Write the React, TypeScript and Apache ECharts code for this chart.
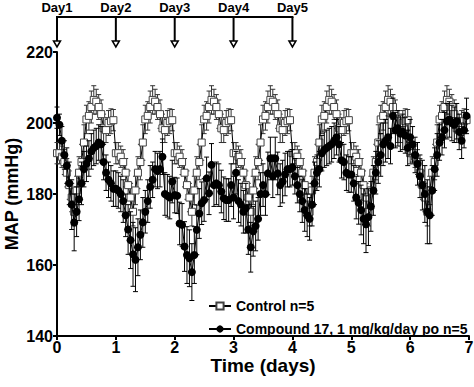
import React, { useEffect, useRef } from "react";
import * as echarts from "echarts";

const FONT = "'Liberation Sans', Arial, Helvetica, sans-serif";

// Day annotation arrows (x position in days)
const dayLabels = ["Day1", "Day2", "Day3", "Day4", "Day5"];
const dayPositions = [0, 1, 2, 3, 4];

const yTickMin = 140;
const yTickMax = 220;
const yTickStep = 20;
const xMin = 0;
const xMax = 7;

// Control MAP, hourly, days 0..6 (mmHg)
const controlDay0 = [191.5, 191.5, 190.5, 189, 186, 182.5, 179, 175, 181, 186, 189, 194.5, 201, 202, 204.5, 206.5, 206, 204.5, 202.5, 198.5, 198, 200, 200.5, 200.8];
const controlDay1 = [191.5, 191.5, 190.5, 189, 186, 182.5, 179, 175, 181, 186, 189, 194.5, 201, 202, 204.5, 206.5, 206, 204.5, 202.5, 198.5, 198, 200, 200.5, 200.8];
const controlDay2 = [191.5, 191.5, 190.5, 189, 186, 182.5, 179, 175, 181, 186, 189, 194.5, 201, 202, 204.5, 206.5, 206, 204.5, 202.5, 198.5, 198, 200, 200.5, 200.8];
const controlDay3 = [191.5, 191.5, 190.5, 189, 186, 182.5, 179, 175, 181, 186, 189, 194.5, 201, 202, 204.5, 206.5, 206, 204.5, 202.5, 198.5, 198, 200, 200.5, 200.8];
const controlDay4 = [191.5, 191.5, 190.5, 189, 186, 182.5, 179, 175, 181, 186, 189, 194.5, 201, 202, 204.5, 206.5, 206, 204.5, 202.5, 198.5, 198, 200, 200.5, 200.8];
const controlDay5 = [191.5, 191.5, 190.5, 189, 186, 182.5, 179, 175, 181, 186, 189, 194.5, 201, 202, 204.5, 206.5, 206, 204.5, 202.5, 198.5, 198, 200, 200.5, 200.8];
const controlDay6 = [191.5, 191.5, 190.5, 189, 186, 182.5, 179, 175, 181, 186, 189, 194.5, 201, 202, 204.5, 206.5, 206, 204.5, 202.5, 198.5, 198, 200, 200.5, 200.8];

// Control SEM, hourly (mmHg)
const controlSemDay = [3, 3, 3, 3.5, 4, 4, 4, 4, 4, 4.5, 5, 5, 4, 4, 4.5, 4, 3.5, 3.5, 4, 4, 3.5, 3.5, 3.5, 3];

// Compound 17 MAP, hourly (mmHg)
const compoundDay0 = [201.5, 199.5, 195, 191, 188, 183, 177, 172, 175, 178.5, 183, 187, 188.5, 190, 192, 193, 193.5, 194.5, 194, 189, 186, 184, 183, 181.5];
const compoundDay1 = [181.5, 181, 180, 178, 174, 170, 167, 163, 161.5, 165, 168.5, 172, 175, 178, 182, 184, 187, 186.5, 187, 190.5, 180, 179.5, 179, 183.5];
const compoundDay2 = [179.7, 179.5, 171.7, 171.3, 165.2, 162.8, 161.9, 158, 162.8, 169.9, 174.5, 177.4, 178.3, 184.4, 180.2, 188.2, 182.5, 183, 182.5, 180.7, 178.8, 178.3, 178.3, 182.5];
const compoundDay3 = [179, 186, 178, 177, 175, 176, 170, 165, 169.5, 171, 173, 180, 182.5, 180, 185.8, 190, 185, 190, 185.8, 182.5, 183.5, 185.5, 187, 187];
const compoundDay4 = [187.5, 185, 182.5, 180, 178, 175.5, 174, 173, 177, 183, 186, 187, 191.5, 192.5, 193, 193.5, 194, 195, 196, 194, 189.5, 189, 186, 185.5];
const compoundDay5 = [185.5, 183, 179, 177.5, 175.5, 173, 171.5, 173.5, 176.5, 181, 186, 189, 191, 194, 195, 196, 193.5, 202, 198, 198.5, 197, 197.5, 196.5, 193];
const compoundDay6 = [196, 194, 191, 188.5, 185, 182.5, 180, 175, 174, 181, 187, 191, 194.5, 196, 198, 200.5, 201, 200, 199.5, 200.5, 197.5, 195, 198, 202];

// Compound 17 SEM, hourly (mmHg)
const compoundSemDay0 = [3, 3, 4, 4, 5, 6, 7, 8, 7, 6, 6, 5, 5, 5, 5, 5, 5, 5, 5, 5, 5, 5, 5, 5];
const compoundSemDay1 = [5, 5, 5, 6, 6, 7, 8, 9, 9, 8, 7, 7, 6, 6, 6, 5, 5, 5, 5, 5, 6, 6, 6, 6];
const compoundSemDay2 = [5, 5, 6, 6, 7, 8, 8, 8, 8, 7, 7, 6, 6, 6, 6, 6, 6, 6, 6, 6, 6, 6, 6, 6];
const compoundSemDay3 = [6, 6, 6, 6, 6, 7, 7, 7, 7, 7, 6, 6, 6, 6, 6, 6, 6, 6, 6, 6, 6, 6, 5, 5];
const compoundSemDay4 = [5, 5, 5, 5, 6, 6, 6, 6, 6, 6, 5, 5, 5, 5, 5, 5, 5, 5, 5, 5, 5, 5, 5, 5];
const compoundSemDay5 = [5, 5, 6, 6, 7, 7, 8, 8, 7, 7, 6, 6, 6, 6, 6, 6, 5, 5, 5, 5, 5, 5, 5, 5];
const compoundSemDay6 = [5, 5, 5, 6, 6, 7, 8, 9, 8, 7, 6, 6, 5, 5, 5, 5, 5, 5, 5, 5, 5, 5, 5, 5];

const controlName = "Control n=5";
const compoundName = "Compound 17, 1 mg/kg/day po n=5";

const controlDays = [controlDay0, controlDay1, controlDay2, controlDay3, controlDay4, controlDay5, controlDay6];
const controlSemDays = [controlSemDay, controlSemDay, controlSemDay, controlSemDay, controlSemDay, controlSemDay, controlSemDay];
const compoundDays = [compoundDay0, compoundDay1, compoundDay2, compoundDay3, compoundDay4, compoundDay5, compoundDay6];
const compoundSemDays = [compoundSemDay0, compoundSemDay1, compoundSemDay2, compoundSemDay3, compoundSemDay4, compoundSemDay5, compoundSemDay6];

function toPoints(days: number[][]) {
  const out: number[][] = [];
  days.forEach((arr, d) => arr.forEach((v, h) => out.push([d + h / arr.length, v])));
  return out;
}
function toBars(days: number[][], sems: number[][]) {
  const out: number[][] = [];
  days.forEach((arr, d) =>
    arr.forEach((v, h) => out.push([d + h / arr.length, v - sems[d][h], v + sems[d][h]]))
  );
  return out;
}

const errorRender = (color: string) => (params: any, api: any) => {
  const x = api.value(0);
  const lo = api.coord([x, api.value(1)]);
  const hi = api.coord([x, api.value(2)]);
  const cap = 2.5;
  const style = { stroke: color, lineWidth: 1 };
  return {
    type: "group",
    children: [
      { type: "line", shape: { x1: lo[0], y1: lo[1], x2: hi[0], y2: hi[1] }, style },
      { type: "line", shape: { x1: lo[0] - cap, y1: lo[1], x2: lo[0] + cap, y2: lo[1] }, style },
      { type: "line", shape: { x1: hi[0] - cap, y1: hi[1], x2: hi[0] + cap, y2: hi[1] }, style },
    ],
  };
};

export default function App() {
  const ref = useRef<HTMLDivElement>(null);
  useEffect(() => {
    if (!ref.current) return;
    const chart = echarts.init(ref.current, undefined, { renderer: "svg" });
    const controlPts = toPoints(controlDays);
    const compoundPts = toPoints(compoundDays);
    const controlBars = toBars(controlDays, controlSemDays);
    const compoundBars = toBars(compoundDays, compoundSemDays);

    const option: any = {
      animation: false,
      backgroundColor: "#fff",
      grid: { left: 57, right: 5, top: 52, bottom: 51, containLabel: false, outerBoundsMode: "none" },
      legend: {
        data: [controlName, compoundName],
        orient: "vertical",
        left: 203,
        top: 294,
        itemWidth: 22,
        itemHeight: 9,
        itemGap: 9,
        textStyle: { fontFamily: FONT, fontWeight: "bold", fontSize: 14, color: "#000" },
      },
      xAxis: {
        type: "value",
        min: xMin,
        max: xMax,
        interval: 1,
        name: "Time (days)",
        nameLocation: "middle",
        nameGap: 20,
        nameMoveOverlap: false,
        nameTextStyle: { fontFamily: FONT, fontWeight: "bold", fontSize: 19, color: "#000" },
        axisLine: { show: true, onZero: false, lineStyle: { color: "#000", width: 2 } },
        axisTick: { show: true, length: 4, lineStyle: { color: "#000", width: 2 } },
        axisLabel: { fontFamily: FONT, fontWeight: "bold", fontSize: 16, color: "#000", margin: 3 },
        splitLine: { show: false },
      },
      yAxis: {
        type: "value",
        min: yTickMin,
        max: yTickMax,
        interval: yTickStep,
        name: "MAP (mmHg)",
        nameLocation: "middle",
        nameGap: 36,
        nameMoveOverlap: false,
        nameTextStyle: { fontFamily: FONT, fontWeight: "bold", fontSize: 18, color: "#000" },
        axisLine: { show: true, lineStyle: { color: "#000", width: 2 } },
        axisTick: { show: true, length: 4, lineStyle: { color: "#000", width: 2 } },
        axisLabel: { fontFamily: FONT, fontWeight: "bold", fontSize: 16, color: "#000", margin: 4 },
        splitLine: { show: false },
      },
      series: [
        {
          name: "controlErr",
          type: "custom",
          renderItem: errorRender("#333"),
          data: controlBars,
          encode: { x: 0, y: [1, 2] },
          z: 2,
          silent: true,
        },
        {
          name: controlName,
          type: "line",
          data: controlPts,
          symbol: "rect",
          symbolSize: 7,
          showAllSymbol: true,
          lineStyle: { color: "#000", width: 1 },
          itemStyle: { color: "#fff", borderColor: "#444", borderWidth: 1 },
          z: 3,
        },
        {
          name: "compoundErr",
          type: "custom",
          renderItem: errorRender("#000"),
          data: compoundBars,
          encode: { x: 0, y: [1, 2] },
          z: 4,
          silent: true,
        },
        {
          name: compoundName,
          type: "line",
          data: compoundPts,
          symbol: "circle",
          symbolSize: 8,
          showAllSymbol: true,
          lineStyle: { color: "#000", width: 1 },
          itemStyle: { color: "#000", borderColor: "#000", borderWidth: 0 },
          z: 5,
        },
        {
          name: "dayMarkers",
          type: "custom",
          clip: false,
          silent: true,
          z: 10,
          data: dayPositions.map((p) => [p, yTickMax]),
          encode: { x: 0, y: 1 },
          renderItem: (params: any, api: any) => {
            const i = params.dataIndex;
            const pt = api.coord([api.value(0), yTickMax]);
            const x = pt[0];
            const top = pt[1];
            const barY = top - 35;
            const children: any[] = [
              { type: "line", shape: { x1: x, y1: barY, x2: x, y2: top - 10 }, style: { stroke: "#000", lineWidth: 2 } },
              {
                type: "polygon",
                shape: { points: [[x - 3.5, top - 11], [x + 3.5, top - 11], [x, top - 5]] },
                style: { stroke: "#000", lineWidth: 1.5, fill: "#fff" },
              },
              {
                type: "text",
                x: x,
                y: top - 45,
                style: {
                  text: dayLabels[i],
                  fontFamily: FONT,
                  fontWeight: "bold",
                  fontSize: 13,
                  fill: "#000",
                  align: "center",
                  verticalAlign: "middle",
                },
              },
            ];
            if (i < dayPositions.length - 1) {
              const nx = api.coord([dayPositions[i + 1], yTickMax])[0];
              children.push({ type: "line", shape: { x1: x - 1, y1: barY, x2: nx + 1, y2: barY }, style: { stroke: "#000", lineWidth: 2 } });
            }
            return { type: "group", children };
          },
        },
      ],
    };
    chart.setOption(option);
    return () => chart.dispose();
  }, []);
  return (
    <div
      ref={ref}
      style={{ position: "absolute", left: 0, top: 0, width: 474, height: 387, background: "#fff" }}
    />
  );
}
